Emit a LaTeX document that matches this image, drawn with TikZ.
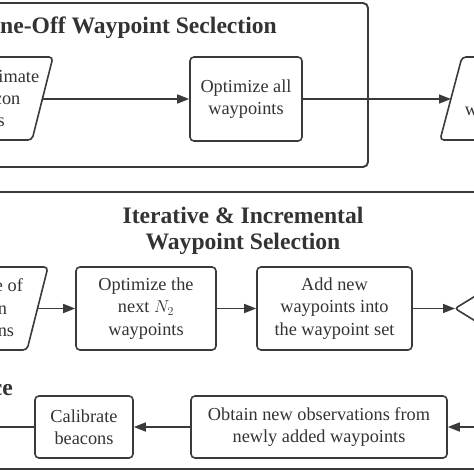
\documentclass[tikz,border=0pt]{standalone}
\usepackage{fontspec}
\setmainfont{Liberation Serif}
\usetikzlibrary{arrows.meta}
\definecolor{ln}{HTML}{3A3A3A}
\definecolor{tx}{HTML}{333333}
\begin{document}
\begin{tikzpicture}[x=1pt,y=-1pt,
  box/.style={draw=ln, line width=1.6pt, rounded corners=4pt, text=tx, align=center,
    font=\fontsize{18.3}{22}\selectfont, inner sep=0pt},
  lbl/.style={text=tx, align=center, font=\fontsize{18.3}{22}\selectfont, inner sep=0pt},
  ttl/.style={text=tx, align=center, font=\fontsize{23.6}{26.5}\selectfont\bfseries, inner sep=0pt},
  shp/.style={draw=ln, line width=1.6pt, rounded corners=4pt},
  arr/.style={draw=ln, line width=1.5pt, -{Triangle[length=12pt,width=9pt]}},
  plain/.style={draw=ln, line width=1.5pt},
  frm/.style={draw=ln, line width=1.9pt, rounded corners=5pt}]
\useasboundingbox (0,0) rectangle (474,474);
\fill[white] (0,0) rectangle (474,474);
\clip (0,0) rectangle (474,474);

% --- One-off section frame
\draw[frm] (-20,3) -- (368,3) -- (368,167) -- (-20,167);
\node[ttl, anchor=base east] (t1) at (277,33) {One-Off Waypoint Seclection};

% parallelogram 1 (left)
\draw[shp] (-100,57) -- (53,57) -- (32,140) -- (-121,140) -- cycle;
\coordinate (p1e) at (42.5,99);
\node[lbl] (p1t) at (-15.5,100) {Initial estimate\\of beacon\\poses};

\node[box, minimum width=112pt, minimum height=84pt] (opt) at (246,99) {Optimize all\\waypoints};

% parallelogram 2 (right)
\draw[shp] (462,57) -- (620,57) -- (598,140) -- (440,140) -- cycle;
\coordinate (p2w) at (451,99);
\node[lbl] (p2t) at (502.5,100) {Final\\waypoints};

\draw[arr] (p1e) -- (opt.west);
\draw[arr] (opt.east) -- (p2w);

% --- Iterative section frame
\draw[draw=ln, line width=1.9pt] (-20,192) rectangle (494,469);
\node[ttl] (t2) at (243,231) {Iterative \& Incremental\\Waypoint Selection};

% parallelogram 3
\draw[shp] (-100,267) -- (48,267) -- (27,350) -- (-121,350) -- cycle;
\coordinate (p3e) at (37.5,308.5);
\node[lbl, font=\fontsize{18.3}{22.5}\selectfont] (p3t) at (-19,310) {Estimate of\\beacon\\positions};

\node[box, font=\fontsize{18.3}{22.5}\selectfont, minimum width=140pt, minimum height=83pt] (b2) at (146,308.5) {Optimize the\\next $N_2$\\waypoints};
\node[box, font=\fontsize{18.3}{22.5}\selectfont, minimum width=155pt, minimum height=83pt] (b3) at (334.5,308.5) {Add new\\waypoints into\\the waypoint set};

% diamond
\draw[shp, rounded corners=3pt] (455,308.5) -- (525,265.5) -- (595,308.5) -- (525,351.5) -- cycle;
\coordinate (dw) at (455,308.5);

\draw[arr] (p3e) -- (b2.west);
\draw[arr] (b2.east) -- (b3.west);
\draw[arr] (b3.east) -- (dw);

% bottom row
\node[ttl, anchor=base east] (conv) at (13,395) {Convergence};
\node[box, minimum width=98pt, minimum height=62pt] (cal) at (84,427) {Calibrate\\beacons};
\node[box, minimum width=256pt, minimum height=62pt] (obt) at (319,427) {Obtain new observations from\\newly added waypoints};
\coordinate (lft) at (-5,427);
\coordinate (rgt) at (480,427);
\draw[plain] (cal.west) -- (lft);
\draw[arr] (obt.west) -- (cal.east);
\draw[arr] (rgt) -- (obt.east);
\end{tikzpicture}
\end{document}
